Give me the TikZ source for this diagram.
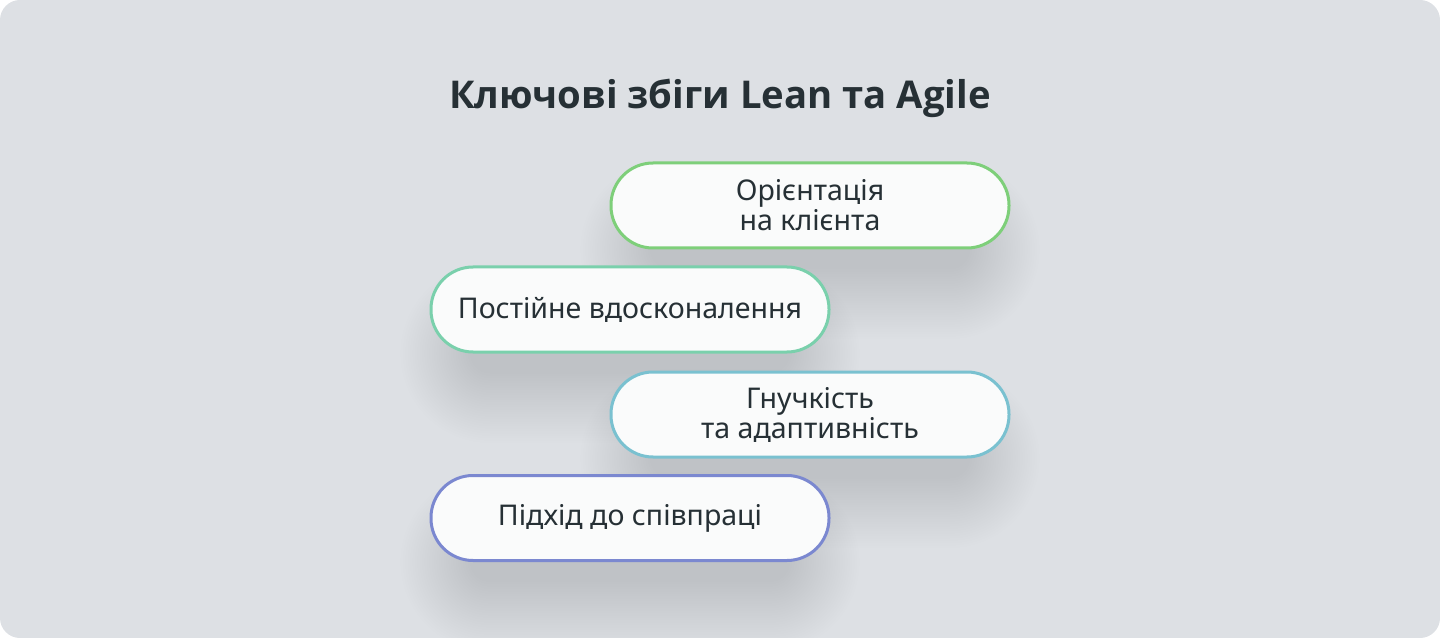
\documentclass[tikz,border=0pt]{standalone}
\usepackage{fontspec}
\setmainfont{Noto Sans}
\newfontfamily\titlefont{Open Sans}
\definecolor{bg}{HTML}{DDE0E4}
\definecolor{pillfill}{HTML}{FAFBFB}
\definecolor{txt}{HTML}{263035}
\definecolor{cgreen}{HTML}{7ECF7A}
\definecolor{cmint}{HTML}{7AD0AC}
\definecolor{cteal}{HTML}{7AC1D0}
\definecolor{cblue}{HTML}{7B88D0}
\newcommand{\pillshadow}[2]{%
  \foreach \k in {0,...,29} {
    \fill[black, opacity=0.0032, rounded corners={(20+\k*2.4)*0.75pt}]
      ({#1-160-\k*2.4},{#2-20-\k*2.4+44}) rectangle ({#1+160+\k*2.4},{#2+20+\k*2.4+44});
  }}
\begin{document}
\begin{tikzpicture}[x=0.75pt,y=-0.75pt,
  pill/.style={draw, line width=2.25pt, fill=pillfill, rounded corners=31.5pt,
    minimum width=298.5pt, minimum height=63.75pt, align=center, inner sep=0pt,
    font=\fontsize{21.4}{22.5}\selectfont, text=txt},
  title/.style={font=\titlefont\bfseries\fontsize{28.7}{33}\selectfont, text=txt}]
\useasboundingbox (0,0) rectangle (1440,638);
\fill[bg, rounded corners=15pt] (0,0) rectangle (1440,638);
\begin{scope}
\clip[rounded corners=15pt] (0,0) rectangle (1440,638);
\pillshadow{810}{205.5}
\pillshadow{630}{309.5}
\pillshadow{810}{414.5}
\pillshadow{630}{518}
\end{scope}
\node[title] (t) at (720,98) {Ключові збіги Lean та Agile};
\node[pill, draw=cgreen] (p1) at (810,205.5) {Орієнтація\\на клієнта};
\node[pill, draw=cmint] (p2) at (630,309.5) {Постійне вдосконалення};
\node[pill, draw=cteal] (p3) at (810,414.5) {Гнучкість\\та адаптивність};
\node[pill, draw=cblue] (p4) at (630,518) {Підхід до співпраці};
\end{tikzpicture}
\end{document}
